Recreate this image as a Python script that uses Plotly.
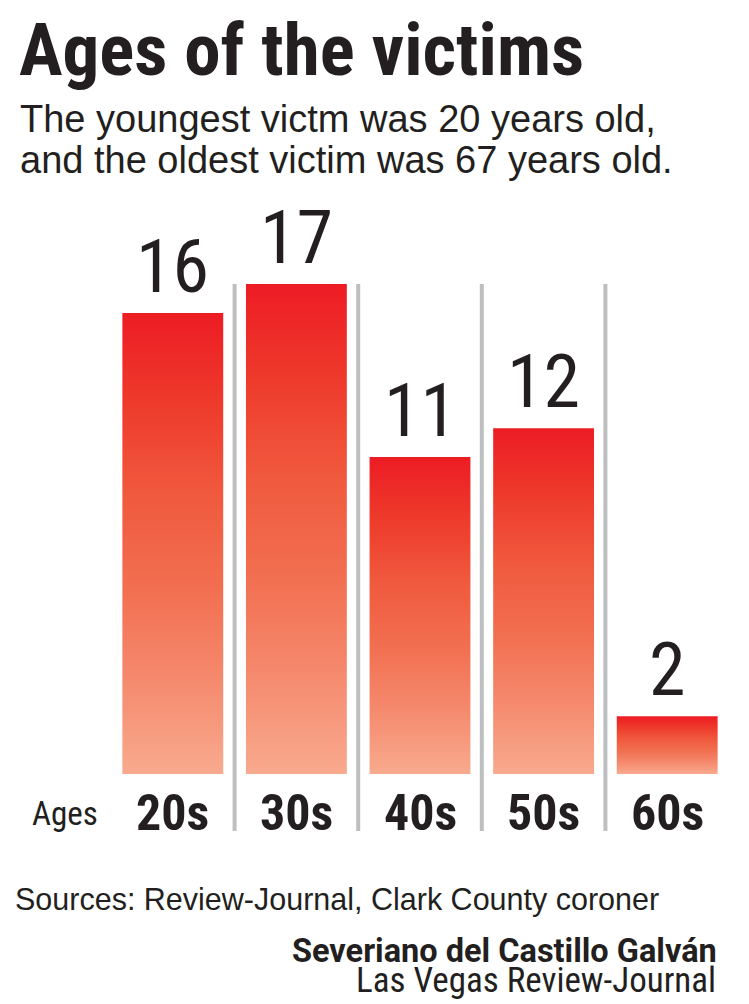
import plotly.graph_objects as go

# chart data
AGE_GROUPS = ['20s', '30s', '40s', '50s', '60s']
VICTIMS = [16, 17, 11, 12, 2]
AXIS_LABEL = 'Ages'

TITLE = 'Ages of the victims'
SUBTITLE = ['The youngest victm was 20 years old,',
            'and the oldest victim was 67 years old.']
SOURCE = 'Sources: Review-Journal, Clark County coroner'
CREDIT = ['Severiano del Castillo Galván', 'Las Vegas Review-Journal']

# red on top fading to salmon at the bottom of every bar
GRADIENT = [[0.0, '#f8aa8e'], [0.2, '#f58a6e'], [0.4, '#f26f51'],
            [0.6, '#f05a3e'], [0.8, '#ee3b2c'], [1.0, '#ed1c24']]

NARROW = 'Roboto Condensed, DejaVu Sans Condensed, sans-serif'
ROBOTO = 'Roboto, Liberation Sans, sans-serif'
REGULAR = 'Liberation Sans, Arial, sans-serif'
INK = '#231f20'
SEP = '#bcbec0'

W, H = 749, 1004
L, R, T, B = 111, 20, 200, 173
PX_PER_UNIT = 28.82
ZERO_PX = 774
Y_MIN = -(H - B - ZERO_PX) / PX_PER_UNIT
Y_MAX = (ZERO_PX - T) / PX_PER_UNIT
HALF = 0.408
DESC_ROBOTO = 0.244   # Roboto descent / em
DESC_REGULAR = 0.212  # Liberation descent / em


def px_x(p):
    return (p - L) / (W - L - R)


def px_y(p):
    return (H - B - p) / (H - T - B)


fig = go.Figure()

for i, v in enumerate(VICTIMS):
    fig.add_trace(go.Scatter(
        x=[i - HALF, i + HALF, i + HALF, i - HALF, i - HALF],
        y=[0, 0, v, v, 0],
        mode='none',
        fill='toself',
        fillgradient=dict(type='vertical', colorscale=GRADIENT, start=0, stop=v),
        hovertemplate=f'{AGE_GROUPS[i]}: {v}<extra></extra>',
    ))
    fig.add_annotation(
        x=i, y=v, xref='x', yref='y', text=str(v), showarrow=False,
        xanchor='center', yanchor='bottom', yshift=20 - (DESC_ROBOTO * 74 + 1),
        font=dict(family=NARROW, size=74, color=INK, weight=400),
    )
    fig.add_annotation(
        x=i, y=0, xref='x', yref='paper', text=AGE_GROUPS[i], showarrow=False,
        xanchor='center', yanchor='bottom', yshift=-(DESC_ROBOTO * 50 + 1),
        font=dict(family=NARROW, size=50, color=INK, weight=700),
    )

# grey separators between the columns
for i in range(len(AGE_GROUPS) - 1):
    fig.add_shape(type='line', xref='x', yref='y', x0=i + 0.5, x1=i + 0.5,
                  y0=Y_MIN, y1=max(VICTIMS), line=dict(color=SEP, width=4))


def text(s, x, baseline, size, family, desc, anchor='left', weight=400):
    fig.add_annotation(
        x=px_x(x), y=px_y(baseline + desc * size + 1), xref='paper', yref='paper',
        text=s, showarrow=False, xanchor=anchor, yanchor='bottom',
        font=dict(family=family, size=size, color=INK, weight=weight),
    )


text(AXIS_LABEL, 100, 826, 33, NARROW, DESC_ROBOTO, anchor='right')
text(TITLE, 17, 76, 73, NARROW, DESC_ROBOTO, weight=700)
text(SUBTITLE[0], 18, 133, 38, REGULAR, DESC_REGULAR)
text(SUBTITLE[1], 18, 174, 38, REGULAR, DESC_REGULAR)
text(SOURCE, 13, 912, 30.5, REGULAR, DESC_REGULAR)
text(CREDIT[0], 719, 963, 32.5, ROBOTO, DESC_ROBOTO, anchor='right', weight=700)
text(CREDIT[1], 718, 993, 35, NARROW, DESC_ROBOTO, anchor='right')

fig.update_layout(
    width=W, height=H,
    margin=dict(l=L, r=R, t=T, b=B),
    paper_bgcolor='white',
    plot_bgcolor='white',
    showlegend=False,
    xaxis=dict(range=[-0.5, len(AGE_GROUPS) - 0.5], visible=False, fixedrange=True),
    yaxis=dict(range=[Y_MIN, Y_MAX], visible=False, fixedrange=True),
)

# drop the default page margin so the figure sits at the window's corner
fig.write_html('out.html', config={'displayModeBar': False},
               post_script="document.body.style.margin='0';")
